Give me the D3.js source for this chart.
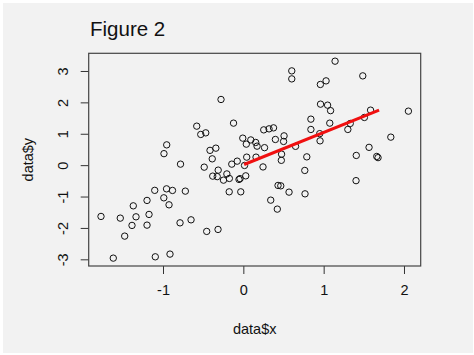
<!DOCTYPE html>
<html>
<head>
<meta charset="utf-8">
<script src="https://cdn.jsdelivr.net/npm/d3@7"></script>
<style>
  body { margin: 0; background: #fff; }
  svg { display: block; font-family: "Liberation Sans", Arial, Helvetica, sans-serif; }
</style>
</head>
<body>
<svg id="chart" width="474" height="355"></svg>
<script>
// data
const xs = [-0.278, -0.580, -0.530, -0.468, -0.122, -0.954, -0.988, -0.415, -0.342, -0.387,
  -0.007, 0.093, 0.037, 0.154, 0.171, 0.254, 0.320, 0.376, 0.264, 0.042,
  0.158, -0.076, -0.144, 0.015, 0.245, -0.782, -0.487, -0.313, -0.381, -0.325,
  -0.247, -0.205, -0.174, -0.054, -0.041, 0.030, -0.176, -0.032, -1.103, -0.956,
  -0.882, -0.722, -0.990, -0.925, -1.199, -1.370, -1.336, -1.174, -1.772, -1.532,
  -1.386, -1.199, -1.477, -0.788, -0.651, -0.456, -0.315, -1.619, -1.096, -0.913,
  1.142, 0.603, 0.603, 1.487, 1.030, 0.959, 0.961, 1.049, 1.086, 1.584,
  1.507, 2.055, 0.841, 1.076, 1.331, 1.301, 0.841, 0.951, 0.955, 0.507,
  0.501, 0.399, 0.650, 1.836, 1.565, 0.476, 0.473, 0.790, 1.406, 1.661,
  1.677, 0.765, 1.403, 0.432, 0.466, 0.569, 0.768, 0.341, 0.423];
const ys = [2.092, 1.242, 0.978, 1.029, 1.338, 0.646, 0.366, 0.471, 0.541, 0.201,
  0.860, 0.803, 0.669, 0.723, 0.605, 1.124, 1.156, 1.188, 0.557, 0.255,
  0.255, 0.127, 0.032, -0.010, -0.057, 0.032, -0.064, -0.159, -0.350, -0.366,
  -0.478, -0.280, -0.424, -0.455, -0.430, -0.341, -0.850, -0.850, -0.803, -0.755,
  -0.806, -0.828, -1.041, -1.264, -1.124, -1.296, -1.646, -1.570, -1.634, -1.688,
  -1.920, -1.911, -2.261, -1.838, -1.742, -2.111, -2.048, -2.962, -2.920, -2.834,
  3.312, 3.003, 2.748, 2.844, 2.685, 2.570, 1.943, 1.911, 1.736, 1.752,
  1.519, 1.720, 1.465, 1.338, 1.328, 1.137, 1.137, 1.003, 0.774, 0.933,
  0.755, 0.818, 0.599, 0.892, 0.567, 0.350, 0.153, 0.264, 0.309, 0.277,
  0.239, -0.169, -0.494, -0.646, -0.659, -0.860, -0.914, -1.115, -1.401];
const lineX = [0.01, 1.69];
const lineY = [0.02, 1.75];
const xTicks = [-1, 0, 1, 2];
const yTicks = [-3, -2, -1, 0, 1, 2, 3];

const points = xs.map((x, i) => ({ x: x, y: ys[i] }));

const svg = d3.select("#chart");
const box = { left: 88.7, right: 420.7, top: 53.3, bottom: 266 };

// R style: 4% padding on the data range
function pad(ext) {
  const d = (ext[1] - ext[0]) * 0.04;
  return [ext[0] - d, ext[1] + d];
}
const x = d3.scaleLinear().domain(pad(d3.extent(xs))).range([box.left, box.right]);
const y = d3.scaleLinear().domain(pad(d3.extent(ys))).range([box.bottom, box.top]);

svg.append("rect")
  .attr("x", 3).attr("y", 3).attr("width", 470).attr("height", 350)
  .attr("fill", "#f2f2f2");

// axes, plain hyphen for negatives like R
const fmt = d => String(d);
const xAxis = svg.append("g")
  .attr("transform", `translate(0,${box.bottom})`)
  .call(d3.axisBottom(x).tickValues(xTicks).tickSize(8).tickPadding(11).tickFormat(fmt));
const yAxis = svg.append("g")
  .attr("transform", `translate(${box.left},0)`)
  .call(d3.axisLeft(y).tickValues(yTicks).tickSize(8).tickFormat(fmt));

[xAxis, yAxis].forEach(a => {
  a.select(".domain").remove();
  a.selectAll(".tick line").attr("stroke", "#333").attr("stroke-width", 1);
  a.selectAll(".tick text")
    .attr("fill", "#111")
    .style("font-size", "14.5px")
    .style("font-family", "'Liberation Sans', Arial, Helvetica, sans-serif");
});
yAxis.selectAll(".tick text")
  .attr("x", null).attr("dy", null)
  .attr("text-anchor", "middle")
  .attr("transform", "translate(-26,0) rotate(-90)")
  .attr("dy", "0.36em");

// box
svg.append("rect")
  .attr("x", box.left).attr("y", box.top)
  .attr("width", box.right - box.left).attr("height", box.bottom - box.top)
  .attr("fill", "none").attr("stroke", "#444").attr("stroke-width", 1.2);

// points
svg.append("g")
  .selectAll("circle")
  .data(points)
  .join("circle")
  .attr("cx", d => x(d.x))
  .attr("cy", d => y(d.y))
  .attr("r", 3.2)
  .attr("fill", "none")
  .attr("stroke", "#111")
  .attr("stroke-width", 1);

// fitted line
const line = d3.line().x(d => x(d[0])).y(d => y(d[1]));
svg.append("path")
  .attr("d", line(lineX.map((v, i) => [v, lineY[i]])))
  .attr("fill", "none")
  .attr("stroke", "#f01010")
  .attr("stroke-width", 3);

// titles
svg.append("text")
  .attr("x", 90).attr("y", 36)
  .style("font-size", "20.5px")
  .attr("fill", "#111")
  .text("Figure 2");

svg.append("text")
  .attr("x", (box.left + box.right) / 2).attr("y", 334)
  .attr("text-anchor", "middle")
  .style("font-size", "14.5px")
  .attr("fill", "#111")
  .text("data$x");

svg.append("text")
  .attr("transform", `translate(33,${(box.top + box.bottom) / 2}) rotate(-90)`)
  .attr("text-anchor", "middle")
  .style("font-size", "14.5px")
  .attr("fill", "#111")
  .text("data$y");
</script>
</body>
</html>
